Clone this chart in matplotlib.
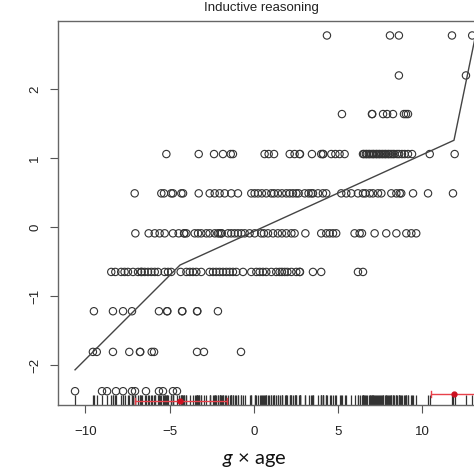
import numpy as np
import matplotlib.pyplot as plt
from matplotlib import transforms

# score levels (y) and g x age values (x) of the points on each level
y_levels = [2.78, 2.20, 1.64, 1.06, 0.49, -0.09, -0.65, -1.22, -1.81, -2.38]

x_278 = [4.33, 8.07, 8.60, 11.75, 12.95]
x_220 = [8.60, 12.58]
x_164 = [5.22, 7.00, 7.02, 7.66, 7.90, 8.25, 8.90, 9.02, 9.14]
x_106 = [-5.20, -3.28, -2.37, -1.84, -1.38, -1.25, 0.63, 0.87, 1.19, 2.12, 2.41, 2.71, 2.73,
         3.44, 3.99, 4.09, 4.11, 4.59, 4.83, 5.08, 5.38,
         6.47, 6.53, 6.64, 6.70, 6.81, 6.86, 6.97, 7.06, 7.12, 7.24, 7.30, 7.41, 7.47, 7.58,
         7.66, 7.77, 7.83, 7.95, 8.02, 8.13, 8.24, 8.33, 8.49, 8.61, 8.78, 8.94, 9.14, 9.38,
         10.43, 11.91]
x_049 = [-7.08, -5.50, -5.34, -4.91, -4.81, -4.31, -4.21, -3.28, -2.63, -2.33, -2.04, -1.74,
         -1.35, -0.95, -0.16, 0.04, 0.24, 0.47, 0.73, 1.03, 1.19, 1.42, 1.66, 1.92, 2.12,
         2.31, 2.51, 2.65, 3.01, 3.24, 3.40, 3.50, 3.80, 4.09, 4.29, 5.18, 5.48, 5.77, 6.17,
         6.47, 6.61, 6.87, 7.06, 7.36, 7.56, 8.15, 8.45, 8.65, 8.74, 9.44, 10.33, 11.81]
x_m009 = [-7.04, -6.25, -5.89, -5.60, -5.30, -4.81, -4.47, -4.15, -4.13, -4.01, -3.52, -3.32,
          -3.13, -2.83, -2.63, -2.33, -2.14, -2.04, -1.94, -1.92, -1.54, -1.35, -1.15, -0.95,
          -0.75, -0.55, -0.26, 0.04, 0.43, 0.59, 0.83, 1.13, 1.42, 1.66, 1.92, 2.22, 2.41,
          3.05, 3.99, 4.29, 4.49, 4.69, 4.88, 5.97, 6.27, 6.41, 7.16, 7.85, 8.45, 9.04, 9.34,
          9.63]
x_m065 = [-8.47, -8.23, -7.88, -7.68, -7.48, -7.18, -6.88, -6.69, -6.67, -6.49, -6.29, -6.09,
          -5.89, -5.70, -5.30, -5.10, -4.91, -4.35, -4.01, -3.81, -3.62, -3.42, -3.13, -2.63,
          -2.43, -2.24, -2.04, -1.84, -1.64, -1.44, -1.25, -1.05, -0.65, -0.16, 0.14, 0.34,
          0.53, 0.73, 1.03, 1.32, 1.52, 1.66, 1.82, 1.98, 2.22, 2.51, 2.71, 2.73, 3.50, 3.99,
          6.17, 6.47]
x_m122 = [-9.50, -8.37, -7.77, -7.24, -5.64, -5.16, -5.14, -4.27, -4.25, -3.38, -3.36, -2.14]
x_m181 = [-9.56, -9.33, -8.37, -7.40, -6.77, -6.75, -6.07, -5.93, -3.38, -2.97, -0.77]
x_m238 = [-10.62, -9.02, -8.72, -8.19, -7.77, -7.24, -7.06, -6.41, -5.64, -5.40, -4.81, -4.57]

rows = [x_278, x_220, x_164, x_106, x_049, x_m009, x_m065, x_m122, x_m181, x_m238]

# segmented fit and breakpoint estimates with confidence intervals
fit_x = [-10.62, -4.39, 11.87, 13.30]
fit_y = [-2.07, -0.55, 1.26, 2.96]
bp = [-4.39, 11.87]
bp_lo = [-7.06, 10.50]
bp_hi = [-1.60, 13.30]
bp_y = [-2.52, -2.42]

plt.rcParams['font.family'] = ['Liberation Sans', 'DejaVu Sans']
plt.rcParams['mathtext.fontset'] = 'custom'
plt.rcParams['mathtext.it'] = 'Lato:italic'
plt.rcParams['mathtext.rm'] = 'Lato'

fig = plt.figure(figsize=(4.74, 4.74), dpi=100)
# plot region runs past the right edge (image is cropped there)
ax = fig.add_axes([0.1224, 0.1456, 0.9694, 0.8101])

all_x = []
for yv, xs in zip(y_levels, rows):
    ax.scatter(xs, [yv] * len(xs), s=28, facecolors='none', edgecolors='#333333', linewidths=0.8)
    all_x += xs

ax.plot(fit_x, fit_y, color='#444444', linewidth=1.0)

# rug along the bottom
trans = transforms.blended_transform_factory(ax.transData, ax.transAxes)
ax.vlines(all_x, 0, 0.025, transform=trans, colors='#333333', linewidth=0.9)

for i in range(len(bp)):
    ax.plot([bp_lo[i], bp_hi[i]], [bp_y[i], bp_y[i]], color='#e8414a', linewidth=1.0)
    ax.plot([bp_lo[i], bp_lo[i]], [bp_y[i] - 0.04, bp_y[i] + 0.04], color='#e8414a', linewidth=1.0)
    ax.plot([bp_hi[i], bp_hi[i]], [bp_y[i] - 0.04, bp_y[i] + 0.04], color='#e8414a', linewidth=1.0)
    ax.plot(bp[i], bp_y[i], 'o', color='#cc1020', markersize=3.5)

ax.set_xlim(-11.63, 15.64)
ax.set_ylim(-2.58, 2.99)
ax.set_xticks([-10, -5, 0, 5, 10])
ax.set_yticks([-2, -1, 0, 1, 2])
ax.tick_params(direction='out', length=6, width=0.8, color='#555555', labelsize=9.5, labelcolor='#222222')
ax.tick_params(axis='x', pad=9)
ax.tick_params(axis='y', pad=6)
for lab in ax.get_yticklabels():
    lab.set_rotation(90)
    lab.set_va('center')
for sp in ax.spines.values():
    sp.set_color('#666666')
    sp.set_linewidth(1.0)

fig.text(261 / 474, 1 - 8 / 474, 'Inductive reasoning', ha='center', va='center', fontsize=9.5, color='#222222')
fig.text(254 / 474, 1 - 460 / 474, r'$\it{g}$ × age', ha='center', va='center', fontsize=14.5,
         family=['Lato', 'DejaVu Sans'], color='#111111')

plt.savefig('out.png', dpi=100)
